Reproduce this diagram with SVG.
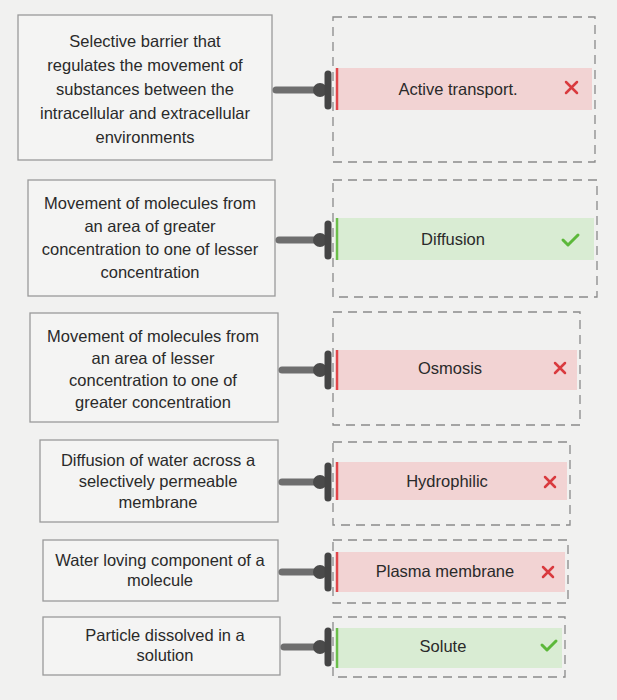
<svg xmlns="http://www.w3.org/2000/svg" width="617" height="700" viewBox="0 0 617 700">
<style>
.bg{fill:#f1f1f0}
.lb{fill:#f4f4f3;stroke:#9a9a9a;stroke-width:1.3}
.rb{fill:none;stroke:#8a8a8a;stroke-width:1.3;stroke-dasharray:9 6}
.t{font-family:"Liberation Sans",Arial,sans-serif;font-size:16.5px;fill:#2a2a2a;text-anchor:middle}
.pink{fill:#f2d3d3}.green{fill:#d9ecd3}
.red{stroke:#e0474b;stroke-width:2.5}.grn{stroke:#6cbf4c;stroke-width:2.5}
.bar{stroke:#6e6e6e;stroke-width:7;stroke-linecap:round}
.knob{fill:#4a4a4a}
.x{stroke:#d93a3e;stroke-width:2.5;stroke-linecap:round}
.ck{fill:none;stroke:#5cb83a;stroke-width:3;stroke-linecap:round;stroke-linejoin:round}
</style>
<rect class="bg" width="617" height="700"/>
<g id="n1"><rect class="lb" x="18" y="15" width="254" height="145"/>
<text class="t" x="145" y="47">Selective barrier that</text><text class="t" x="145" y="71">regulates the movement of</text><text class="t" x="145" y="95">substances between the</text><text class="t" x="145" y="119">intracellular and extracellular</text><text class="t" x="145" y="143">environments</text></g>
<g id="n2"><rect class="lb" x="28" y="180" width="247" height="116"/>
<text class="t" x="150" y="209">Movement of molecules from</text><text class="t" x="150" y="232">an area of greater</text><text class="t" x="150" y="255">concentration to one of lesser</text><text class="t" x="150" y="278">concentration</text></g>
<g id="n3"><rect class="lb" x="30" y="313" width="248" height="109"/>
<text class="t" x="153" y="342">Movement of molecules from</text><text class="t" x="153" y="364">an area of lesser</text><text class="t" x="153" y="386">concentration to one of</text><text class="t" x="153" y="408">greater concentration</text></g>
<g id="n4"><rect class="lb" x="40" y="440" width="238" height="82"/>
<text class="t" x="158" y="466">Diffusion of water across a</text><text class="t" x="158" y="487">selectively permeable</text><text class="t" x="158" y="508">membrane</text></g>
<g id="n5"><rect class="lb" x="43" y="540" width="235" height="61"/>
<text class="t" x="160" y="566">Water loving component of a</text><text class="t" x="160" y="586">molecule</text></g>
<g id="n6"><rect class="lb" x="43" y="617" width="237" height="58"/>
<text class="t" x="165" y="641">Particle dissolved in a</text><text class="t" x="165" y="661">solution</text></g>
<g id="r1"><rect class="rb" x="333" y="17" width="262" height="145"/><rect class="pink" x="336" y="68" width="256" height="42"/><line class="red" x1="337" y1="68" x2="337" y2="110"/><text class="t" x="458" y="95">Active transport.</text><path class="x" d="M566 82l11 11M577 82l-11 11"/></g>
<g id="r2"><rect class="rb" x="333" y="180" width="264" height="117"/><rect class="green" x="336" y="218" width="258" height="42"/><line class="grn" x1="337" y1="218" x2="337" y2="260"/><text class="t" x="453" y="245">Diffusion</text><path class="ck" d="M563 240l5 5 10-10"/></g>
<g id="r3"><rect class="rb" x="333" y="312" width="247" height="113"/><rect class="pink" x="336" y="350" width="241" height="40"/><line class="red" x1="337" y1="350" x2="337" y2="390"/><text class="t" x="450" y="374">Osmosis</text><path class="x" d="M555 363l10 10M565 363l-10 10"/></g>
<g id="r4"><rect class="rb" x="333" y="442" width="237" height="83"/><rect class="pink" x="336" y="462" width="231" height="38"/><line class="red" x1="337" y1="462" x2="337" y2="500"/><text class="t" x="447" y="487">Hydrophilic</text><path class="x" d="M545 477l10 10M555 477l-10 10"/></g>
<g id="r5"><rect class="rb" x="333" y="540" width="235" height="63"/><rect class="pink" x="336" y="552" width="229" height="40"/><line class="red" x1="337" y1="552" x2="337" y2="592"/><text class="t" x="445" y="577">Plasma membrane</text><path class="x" d="M543 567l10 10M553 567l-10 10"/></g>
<g id="r6"><rect class="rb" x="333" y="617" width="232" height="60"/><rect class="green" x="336" y="628" width="226" height="40"/><line class="grn" x1="337" y1="628" x2="337" y2="668"/><text class="t" x="443" y="652">Solute</text><path class="ck" d="M542 645l5 5 9-9"/></g>
<g id="connectors">
<line class="bar" x1="276" y1="90" x2="318" y2="90"/><circle class="knob" cx="320" cy="90" r="7"/><line class="bar" x1="328" y1="74" x2="328" y2="106" style="stroke:#444"/>
<line class="bar" x1="279" y1="240" x2="318" y2="240"/><circle class="knob" cx="320" cy="240" r="7"/><line class="bar" x1="328" y1="224" x2="328" y2="256" style="stroke:#444"/>
<line class="bar" x1="282" y1="370" x2="318" y2="370"/><circle class="knob" cx="320" cy="370" r="7"/><line class="bar" x1="328" y1="354" x2="328" y2="386" style="stroke:#444"/>
<line class="bar" x1="282" y1="482" x2="318" y2="482"/><circle class="knob" cx="320" cy="482" r="7"/><line class="bar" x1="328" y1="466" x2="328" y2="498" style="stroke:#444"/>
<line class="bar" x1="282" y1="572" x2="318" y2="572"/><circle class="knob" cx="320" cy="572" r="7"/><line class="bar" x1="328" y1="556" x2="328" y2="588" style="stroke:#444"/>
<line class="bar" x1="284" y1="647" x2="318" y2="647"/><circle class="knob" cx="320" cy="647" r="7"/><line class="bar" x1="328" y1="631" x2="328" y2="663" style="stroke:#444"/>
</g>
</svg>
